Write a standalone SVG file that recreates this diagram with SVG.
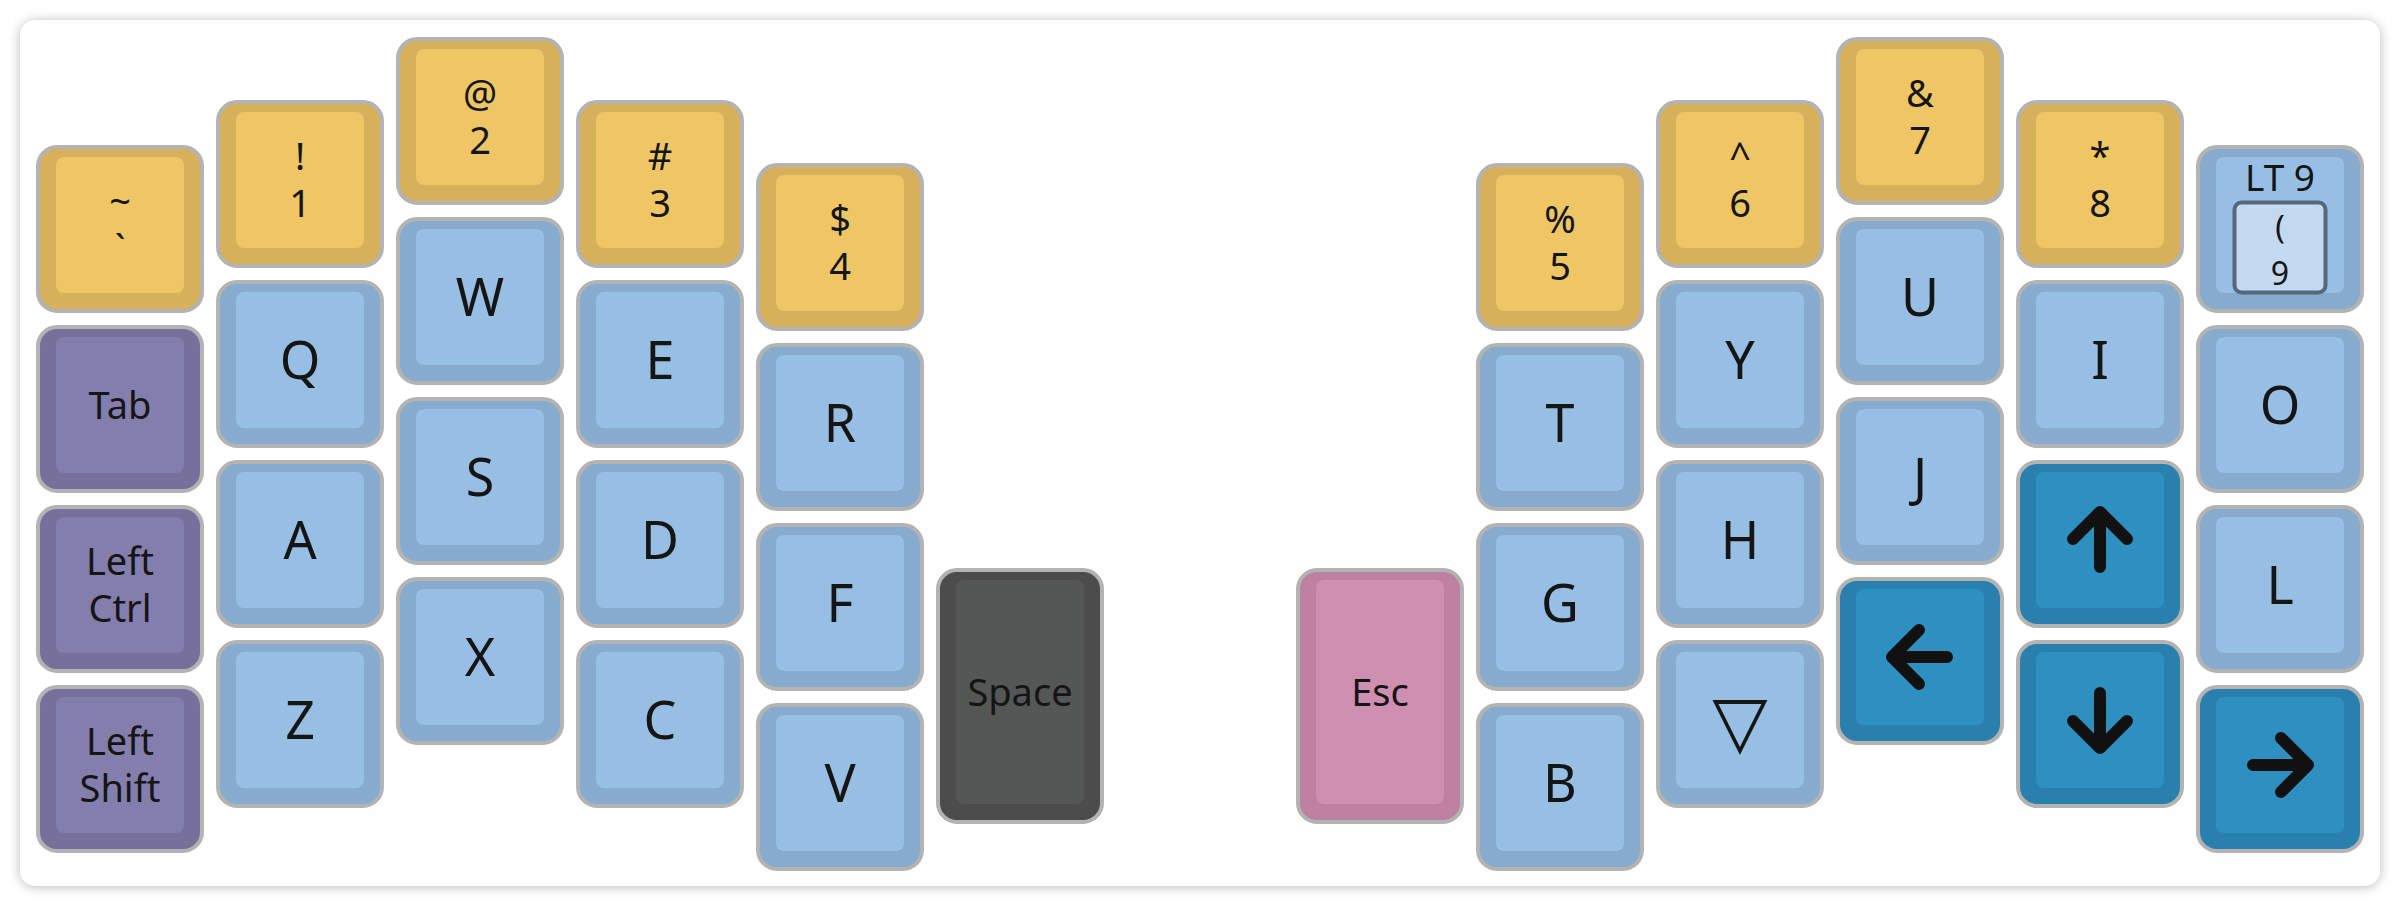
<svg xmlns="http://www.w3.org/2000/svg" xmlns:xlink="http://www.w3.org/1999/xlink" width="2398" height="904" viewBox="0 0 2398 904">
<style>
.o{stroke:#b3b3b3;stroke-width:4}
.yel .o{fill:#d7b05b}.yel .i{fill:#efc665}
.blu .o{fill:#87abce}.blu .i{fill:#97bfe4}
.pur .o{fill:#77709c}.pur .i{fill:#847ead}
.gry .o{fill:#4b4c4b}.gry .i{fill:#555756}
.pnk .o{fill:#bd80a0}.pnk .i{fill:#cf8fb1}
.tea .o{fill:#2a80ad}.tea .i{fill:#2e90c1}
.t{font-family:"Noto Sans","Liberation Sans",sans-serif;fill:#151515;text-anchor:middle}
.big{font-size:52px}
.sm{font-size:38px}
.arr{fill:none;stroke:#111;stroke-width:12;stroke-linecap:round;stroke-linejoin:round}
</style>
<defs>
<filter id="sh" x="-3%" y="-6%" width="106%" height="112%">
<feDropShadow dx="0" dy="1" stdDeviation="6" flood-color="#000" flood-opacity="0.28"/>
</filter>
<path id="arrow" class="arr" d="M-27 -1 L0 -28 L27 -1 M0 -28 V27"/>
</defs>
<rect x="0" y="0" width="2398" height="904" fill="#ffffff"/>
<rect x="20" y="20" width="2360" height="866" rx="16" fill="#ffffff" filter="url(#sh)"/>

<g id="key-grave" class="yel" transform="translate(36,145)"><rect class="o" x="2" y="2" width="164" height="164" rx="19"/><rect class="i" x="20" y="12" width="128" height="136" rx="8"/><text class="t sm" x="84" y="70">~</text><text class="t sm" x="84" y="117">`</text></g>
<g id="key-tab" class="pur" transform="translate(36,325)"><rect class="o" x="2" y="2" width="164" height="164" rx="19"/><rect class="i" x="20" y="12" width="128" height="136" rx="8"/><text class="t sm" x="84" y="93.5">Tab</text></g>
<g id="key-lctrl" class="pur" transform="translate(36,505)"><rect class="o" x="2" y="2" width="164" height="164" rx="19"/><rect class="i" x="20" y="12" width="128" height="136" rx="8"/><text class="t sm" x="84" y="70">Left</text><text class="t sm" x="84" y="117">Ctrl</text></g>
<g id="key-lshift" class="pur" transform="translate(36,685)"><rect class="o" x="2" y="2" width="164" height="164" rx="19"/><rect class="i" x="20" y="12" width="128" height="136" rx="8"/><text class="t sm" x="84" y="70">Left</text><text class="t sm" x="84" y="117">Shift</text></g>

<g id="key-1" class="yel" transform="translate(216,100)"><rect class="o" x="2" y="2" width="164" height="164" rx="19"/><rect class="i" x="20" y="12" width="128" height="136" rx="8"/><text class="t sm" x="84" y="70">!</text><text class="t sm" x="84" y="117">1</text></g>
<g id="key-q" class="blu" transform="translate(216,280)"><rect class="o" x="2" y="2" width="164" height="164" rx="19"/><rect class="i" x="20" y="12" width="128" height="136" rx="8"/><text class="t big" x="84" y="98.5">Q</text></g>
<g id="key-a" class="blu" transform="translate(216,460)"><rect class="o" x="2" y="2" width="164" height="164" rx="19"/><rect class="i" x="20" y="12" width="128" height="136" rx="8"/><text class="t big" x="84" y="98.5">A</text></g>
<g id="key-z" class="blu" transform="translate(216,640)"><rect class="o" x="2" y="2" width="164" height="164" rx="19"/><rect class="i" x="20" y="12" width="128" height="136" rx="8"/><text class="t big" x="84" y="98.5">Z</text></g>

<g id="key-2" class="yel" transform="translate(396,37)"><rect class="o" x="2" y="2" width="164" height="164" rx="19"/><rect class="i" x="20" y="12" width="128" height="136" rx="8"/><text class="t sm" x="84" y="70">@</text><text class="t sm" x="84" y="117">2</text></g>
<g id="key-w" class="blu" transform="translate(396,217)"><rect class="o" x="2" y="2" width="164" height="164" rx="19"/><rect class="i" x="20" y="12" width="128" height="136" rx="8"/><text class="t big" x="84" y="98.5">W</text></g>
<g id="key-s" class="blu" transform="translate(396,397)"><rect class="o" x="2" y="2" width="164" height="164" rx="19"/><rect class="i" x="20" y="12" width="128" height="136" rx="8"/><text class="t big" x="84" y="98.5">S</text></g>
<g id="key-x" class="blu" transform="translate(396,577)"><rect class="o" x="2" y="2" width="164" height="164" rx="19"/><rect class="i" x="20" y="12" width="128" height="136" rx="8"/><text class="t big" x="84" y="98.5">X</text></g>

<g id="key-3" class="yel" transform="translate(576,100)"><rect class="o" x="2" y="2" width="164" height="164" rx="19"/><rect class="i" x="20" y="12" width="128" height="136" rx="8"/><text class="t sm" x="84" y="70">#</text><text class="t sm" x="84" y="117">3</text></g>
<g id="key-e" class="blu" transform="translate(576,280)"><rect class="o" x="2" y="2" width="164" height="164" rx="19"/><rect class="i" x="20" y="12" width="128" height="136" rx="8"/><text class="t big" x="84" y="98.5">E</text></g>
<g id="key-d" class="blu" transform="translate(576,460)"><rect class="o" x="2" y="2" width="164" height="164" rx="19"/><rect class="i" x="20" y="12" width="128" height="136" rx="8"/><text class="t big" x="84" y="98.5">D</text></g>
<g id="key-c" class="blu" transform="translate(576,640)"><rect class="o" x="2" y="2" width="164" height="164" rx="19"/><rect class="i" x="20" y="12" width="128" height="136" rx="8"/><text class="t big" x="84" y="98.5">C</text></g>

<g id="key-4" class="yel" transform="translate(756,163)"><rect class="o" x="2" y="2" width="164" height="164" rx="19"/><rect class="i" x="20" y="12" width="128" height="136" rx="8"/><text class="t sm" x="84" y="70">$</text><text class="t sm" x="84" y="117">4</text></g>
<g id="key-r" class="blu" transform="translate(756,343)"><rect class="o" x="2" y="2" width="164" height="164" rx="19"/><rect class="i" x="20" y="12" width="128" height="136" rx="8"/><text class="t big" x="84" y="98.5">R</text></g>
<g id="key-f" class="blu" transform="translate(756,523)"><rect class="o" x="2" y="2" width="164" height="164" rx="19"/><rect class="i" x="20" y="12" width="128" height="136" rx="8"/><text class="t big" x="84" y="98.5">F</text></g>
<g id="key-v" class="blu" transform="translate(756,703)"><rect class="o" x="2" y="2" width="164" height="164" rx="19"/><rect class="i" x="20" y="12" width="128" height="136" rx="8"/><text class="t big" x="84" y="98.5">V</text></g>

<g id="key-space" class="gry" transform="translate(936,568)"><rect class="o" x="2" y="2" width="164" height="252" rx="19"/><rect class="i" x="20" y="12" width="128" height="224" rx="8"/><text class="t sm" x="84" y="137.5">Space</text></g>
<g id="key-esc" class="pnk" transform="translate(1296,568)"><rect class="o" x="2" y="2" width="164" height="252" rx="19"/><rect class="i" x="20" y="12" width="128" height="224" rx="8"/><text class="t sm" x="84" y="137.5">Esc</text></g>

<g id="key-5" class="yel" transform="translate(1476,163)"><rect class="o" x="2" y="2" width="164" height="164" rx="19"/><rect class="i" x="20" y="12" width="128" height="136" rx="8"/><text class="t sm" x="84" y="70">%</text><text class="t sm" x="84" y="117">5</text></g>
<g id="key-t" class="blu" transform="translate(1476,343)"><rect class="o" x="2" y="2" width="164" height="164" rx="19"/><rect class="i" x="20" y="12" width="128" height="136" rx="8"/><text class="t big" x="84" y="98.5">T</text></g>
<g id="key-g" class="blu" transform="translate(1476,523)"><rect class="o" x="2" y="2" width="164" height="164" rx="19"/><rect class="i" x="20" y="12" width="128" height="136" rx="8"/><text class="t big" x="84" y="98.5">G</text></g>
<g id="key-b" class="blu" transform="translate(1476,703)"><rect class="o" x="2" y="2" width="164" height="164" rx="19"/><rect class="i" x="20" y="12" width="128" height="136" rx="8"/><text class="t big" x="84" y="98.5">B</text></g>

<g id="key-6" class="yel" transform="translate(1656,100)"><rect class="o" x="2" y="2" width="164" height="164" rx="19"/><rect class="i" x="20" y="12" width="128" height="136" rx="8"/><text class="t sm" x="84" y="70">^</text><text class="t sm" x="84" y="117">6</text></g>
<g id="key-y" class="blu" transform="translate(1656,280)"><rect class="o" x="2" y="2" width="164" height="164" rx="19"/><rect class="i" x="20" y="12" width="128" height="136" rx="8"/><text class="t big" x="84" y="98.5">Y</text></g>
<g id="key-h" class="blu" transform="translate(1656,460)"><rect class="o" x="2" y="2" width="164" height="164" rx="19"/><rect class="i" x="20" y="12" width="128" height="136" rx="8"/><text class="t big" x="84" y="98.5">H</text></g>
<g id="key-tri" class="blu" transform="translate(1656,640)"><rect class="o" x="2" y="2" width="164" height="164" rx="19"/><rect class="i" x="20" y="12" width="128" height="136" rx="8"/><text class="t" style="font-family:'DejaVu Sans',sans-serif;font-size:72px" x="84" y="106">▽</text></g>

<g id="key-7" class="yel" transform="translate(1836,37)"><rect class="o" x="2" y="2" width="164" height="164" rx="19"/><rect class="i" x="20" y="12" width="128" height="136" rx="8"/><text class="t sm" x="84" y="70">&amp;</text><text class="t sm" x="84" y="117">7</text></g>
<g id="key-u" class="blu" transform="translate(1836,217)"><rect class="o" x="2" y="2" width="164" height="164" rx="19"/><rect class="i" x="20" y="12" width="128" height="136" rx="8"/><text class="t big" x="84" y="98.5">U</text></g>
<g id="key-j" class="blu" transform="translate(1836,397)"><rect class="o" x="2" y="2" width="164" height="164" rx="19"/><rect class="i" x="20" y="12" width="128" height="136" rx="8"/><text class="t big" x="84" y="98.5">J</text></g>
<g id="key-left" class="tea" transform="translate(1836,577)"><rect class="o" x="2" y="2" width="164" height="164" rx="19"/><rect class="i" x="20" y="12" width="128" height="136" rx="8"/><use xlink:href="#arrow" href="#arrow" transform="translate(84,80) rotate(-90)"/></g>

<g id="key-8" class="yel" transform="translate(2016,100)"><rect class="o" x="2" y="2" width="164" height="164" rx="19"/><rect class="i" x="20" y="12" width="128" height="136" rx="8"/><text class="t sm" x="84" y="70">*</text><text class="t sm" x="84" y="117">8</text></g>
<g id="key-i" class="blu" transform="translate(2016,280)"><rect class="o" x="2" y="2" width="164" height="164" rx="19"/><rect class="i" x="20" y="12" width="128" height="136" rx="8"/><text class="t big" x="84" y="98.5">I</text></g>
<g id="key-up" class="tea" transform="translate(2016,460)"><rect class="o" x="2" y="2" width="164" height="164" rx="19"/><rect class="i" x="20" y="12" width="128" height="136" rx="8"/><use xlink:href="#arrow" href="#arrow" transform="translate(84,80)"/></g>
<g id="key-down" class="tea" transform="translate(2016,640)"><rect class="o" x="2" y="2" width="164" height="164" rx="19"/><rect class="i" x="20" y="12" width="128" height="136" rx="8"/><use xlink:href="#arrow" href="#arrow" transform="translate(84,80) rotate(180)"/></g>

<g id="key-lt9" class="blu" transform="translate(2196,145)"><rect class="o" x="2" y="2" width="164" height="164" rx="19"/><rect class="i" x="20" y="12" width="128" height="136" rx="8"/><text class="t" style="font-size:37px" x="84" y="46">LT 9</text><rect x="38.5" y="57.5" width="91" height="90" rx="7" fill="#c3d9ef" stroke="#56687e" stroke-width="4"/><text class="t" style="font-size:32px" x="84" y="94">(</text><text class="t" style="font-size:32px" x="84" y="140">9</text></g>
<g id="key-o" class="blu" transform="translate(2196,325)"><rect class="o" x="2" y="2" width="164" height="164" rx="19"/><rect class="i" x="20" y="12" width="128" height="136" rx="8"/><text class="t big" x="84" y="98.5">O</text></g>
<g id="key-l" class="blu" transform="translate(2196,505)"><rect class="o" x="2" y="2" width="164" height="164" rx="19"/><rect class="i" x="20" y="12" width="128" height="136" rx="8"/><text class="t big" x="84" y="98.5">L</text></g>
<g id="key-right" class="tea" transform="translate(2196,685)"><rect class="o" x="2" y="2" width="164" height="164" rx="19"/><rect class="i" x="20" y="12" width="128" height="136" rx="8"/><use xlink:href="#arrow" href="#arrow" transform="translate(84,80) rotate(90)"/></g>
</svg>
